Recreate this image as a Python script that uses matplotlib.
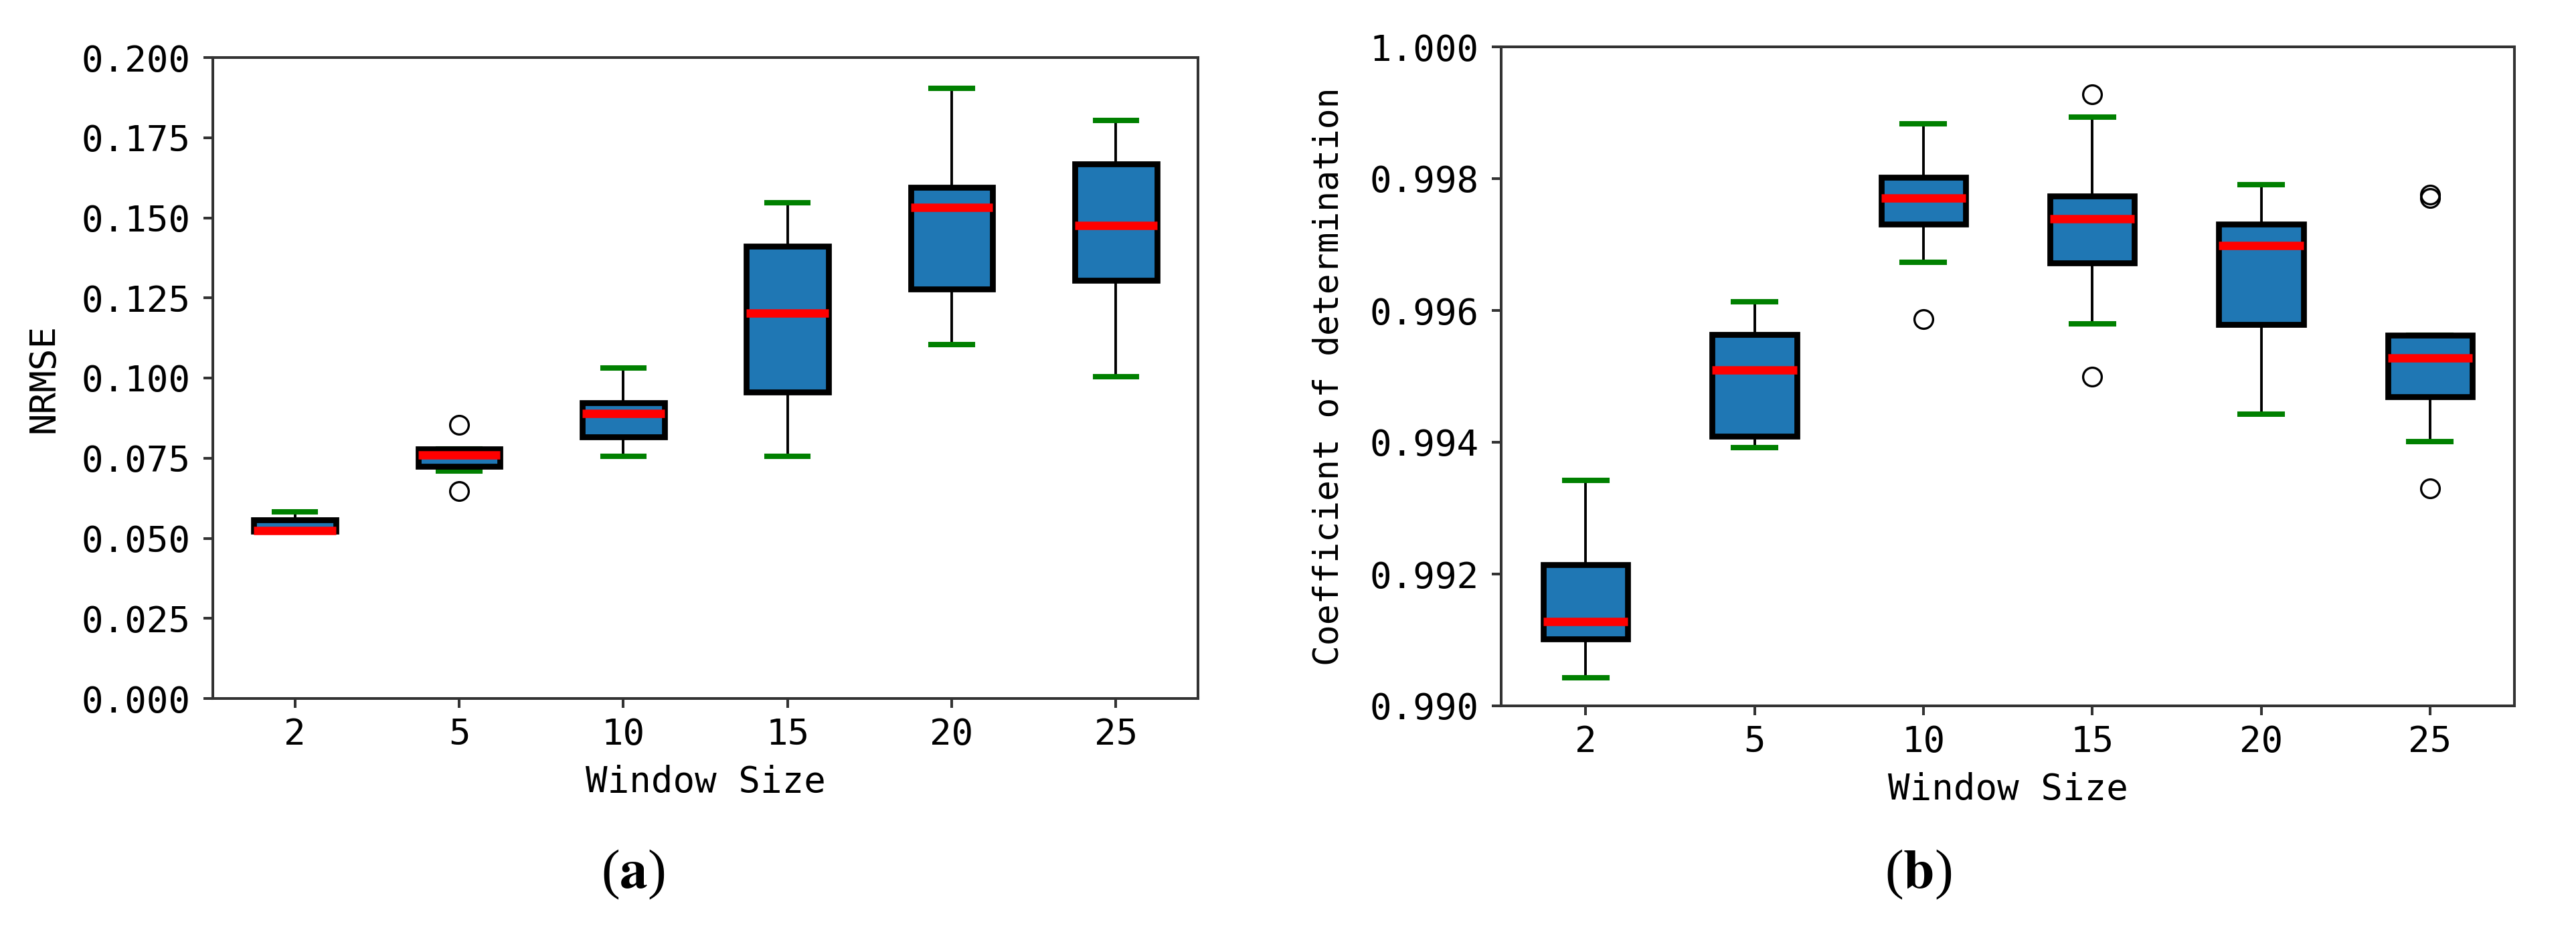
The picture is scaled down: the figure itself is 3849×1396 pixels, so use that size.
import matplotlib
matplotlib.use("Agg")
import matplotlib.pyplot as plt
from matplotlib.ticker import FormatStrFormatter

plt.rcParams['font.family'] = ['DejaVu Sans Mono']
plt.rcParams['mathtext.fontset'] = 'stix'

# window sizes on the x axis
window_sizes = ['2', '5', '10', '15', '20', '25']

# (a) NRMSE box statistics
nrmse_lo = [0.0522, 0.0709, 0.0756, 0.0756, 0.1104, 0.1004]
nrmse_q1 = [0.0522, 0.0724, 0.0816, 0.0957, 0.1277, 0.1305]
nrmse_med = [0.0525, 0.0760, 0.0890, 0.1203, 0.1533, 0.1477]
nrmse_q3 = [0.0557, 0.0778, 0.0922, 0.1412, 0.1594, 0.1669]
nrmse_hi = [0.0583, 0.0778, 0.1032, 0.1546, 0.1903, 0.1803]
nrmse_fliers = [[], [0.0853, 0.0648], [], [], [], []]

# (b) coefficient of determination
r2_lo = [0.99043, 0.99392, 0.99673, 0.99580, 0.99443, 0.99401]
r2_q1 = [0.99102, 0.99409, 0.99731, 0.99672, 0.99579, 0.99469]
r2_med = [0.99128, 0.99510, 0.99771, 0.99739, 0.99698, 0.99528]
r2_q3 = [0.99214, 0.99563, 0.99802, 0.99774, 0.99731, 0.99562]
r2_hi = [0.99342, 0.99613, 0.99883, 0.99893, 0.99791, 0.99562]
r2_fliers = [[], [], [0.99587], [0.99928, 0.99500], [], [0.99776, 0.99771, 0.99330]]


def make_stats(lo, q1, med, q3, hi, fliers):
    stats = []
    for i in range(len(window_sizes)):
        stats.append(dict(whislo=lo[i], q1=q1[i], med=med[i], q3=q3[i],
                          whishi=hi[i], fliers=fliers[i], label=window_sizes[i]))
    return stats


def draw(ax, stats):
    ax.bxp(stats, widths=0.5, patch_artist=True,
           boxprops=dict(facecolor='#1f77b4', edgecolor='black', linewidth=6.3),
           medianprops=dict(color='red', linewidth=9),
           capprops=dict(color='green', linewidth=5.8, zorder=1.5),
           whiskerprops=dict(color='black', linewidth=2.8, zorder=1.5),
           flierprops=dict(marker='o', markerfacecolor='none', markeredgecolor='black',
                           markersize=20, markeredgewidth=2.4))
    for s in ax.spines.values():
        s.set_linewidth(2.9)
        s.set_color('0.2')
    ax.tick_params(axis='both', labelsize=39, length=10, width=2.9, color='0.2')
    ax.tick_params(axis='y', pad=14)
    ax.tick_params(axis='x', pad=10)
    ax.set_xlabel('Window Size', fontsize=39, labelpad=14)


W, H = 3849, 1396
fig = plt.figure(figsize=(W / 100, H / 100), dpi=100)

ax1 = fig.add_axes([318 / W, 1 - 1044 / H, 1472 / W, 958 / H])
draw(ax1, make_stats(nrmse_lo, nrmse_q1, nrmse_med, nrmse_q3, nrmse_hi, nrmse_fliers))
ax1.set_ylim(0, 0.2)
ax1.set_yticks([0, 0.025, 0.05, 0.075, 0.1, 0.125, 0.15, 0.175, 0.2])
ax1.yaxis.set_major_formatter(FormatStrFormatter('%.3f'))
ax1.set_ylabel('NRMSE', fontsize=39, labelpad=22)

ax2 = fig.add_axes([2243 / W, 1 - 1055 / H, 1514 / W, 985 / H])
draw(ax2, make_stats(r2_lo, r2_q1, r2_med, r2_q3, r2_hi, r2_fliers))
ax2.set_ylim(0.99, 1.0)
ax2.set_yticks([0.990, 0.992, 0.994, 0.996, 0.998, 1.000])
ax2.yaxis.set_major_formatter(FormatStrFormatter('%.3f'))
ax2.set_ylabel('Coefficient of determination', fontsize=37, labelpad=26)

fig.text(946 / W, 1 - 1307 / H, r'($\mathbf{a}$)', fontsize=60, family='Liberation Serif',
         ha='center', va='center')
fig.text(2866 / W, 1 - 1307 / H, r'($\mathbf{b}$)', fontsize=60, family='Liberation Serif',
         ha='center', va='center')

fig.savefig('out.png', dpi=100, facecolor='white')
